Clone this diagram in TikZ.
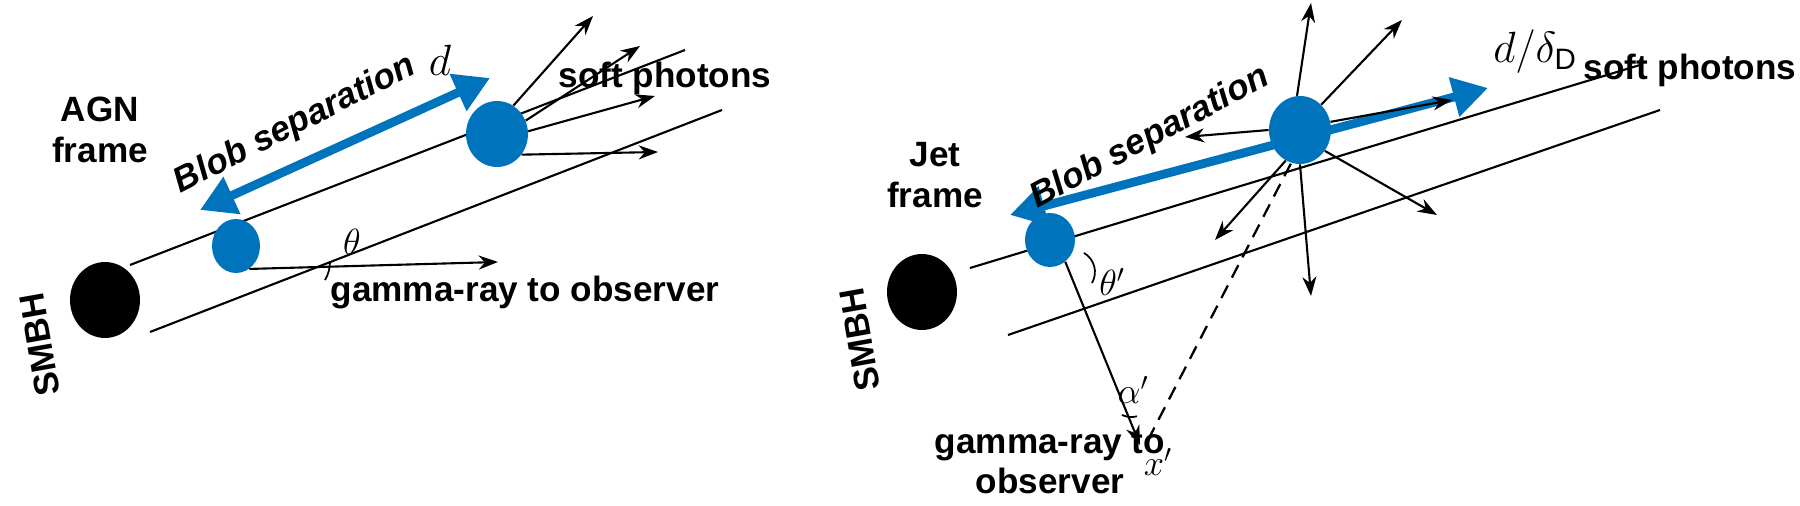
\documentclass[tikz,border=0pt]{standalone}
\usepackage{fontspec}
\setmainfont{Liberation Sans}
\usetikzlibrary{arrows.meta,shapes.geometric}
\definecolor{blobblue}{RGB}{0,115,189}
\begin{document}
\begin{tikzpicture}[x=0.02cm,y=-0.02cm,
  lbl/.style={font=\fontsize{20}{23}\selectfont\bfseries, align=center, inner sep=0pt},
  mth/.style={font=\fontsize{22}{24}\selectfont, inner sep=0pt},
  jet/.style={line width=1.2pt},
  ph/.style={line width=1.2pt,-{Stealth[length=11pt,width=8pt]}},
  blob/.style={ellipse, fill=blobblue, draw=none, inner sep=0pt},
  bh/.style={ellipse, fill=black, inner sep=0pt, minimum width=1.4cm, minimum height=1.52cm}]
\useasboundingbox (0,0) rectangle (1800,506);
% ---------- left panel ----------
\node[bh] (bhL) at (105,300) {};
\node[lbl, rotate=100] (smbhL) at (40,345) {SMBH};
\node[lbl] (agn) at (100,130) {AGN\\frame};
\coordinate (uL1) at (130,265); \coordinate (uL2) at (685,50);
\coordinate (lL1) at (150,332); \coordinate (lL2) at (722,110);
\draw[jet] (uL1) -- (uL2);
\draw[jet] (lL1) -- (lL2);
\node[blob, minimum width=0.96cm, minimum height=1.08cm] (b1L) at (236,246) {};
\node[blob, minimum width=1.24cm, minimum height=1.32cm] (b2L) at (497,134) {};
\coordinate (gL) at (498,262);
\draw[ph] (b1L.-60) -- (gL);
\draw[line width=1pt] (330,262) arc[start angle=0, end angle=31, radius=35];
\node[mth] (thL) at (352,242) {$\theta$};
\node[lbl] (gtxtL) at (525,292) {gamma-ray to observer};
\draw[blobblue, line width=5pt, {Triangle[length=20pt,width=22pt]}-{Triangle[length=20pt,width=22pt]}] (200,210) -- (490,78);
\node[lbl, rotate=27, font=\fontsize{20}{23}\selectfont\bfseries\itshape] (bsL) at (295,125) {Blob separation};
\node[mth, font=\fontsize{26}{28}\selectfont] (dL) at (440,60) {$d$};
\coordinate (pL1) at (593,16); \coordinate (pL2) at (640,46);
\coordinate (pL3) at (655,96); \coordinate (pL4) at (658,152);
\draw[ph] (b2L.60) -- (pL1);
\draw[ph] (b2L.25) -- (pL2);
\draw[ph] (b2L.5) -- (pL3);
\draw[ph] (b2L.-40) -- (pL4);
\node[lbl] (spL) at (665,78) {soft photons};
% ---------- right panel ----------
\node[bh] (bhR) at (922,292) {};
\node[lbl, rotate=100] (smbhR) at (860,340) {SMBH};
\node[lbl] (jetf) at (935,175) {Jet\\frame};
\coordinate (uR1) at (970,268); \coordinate (uR2) at (1640,65);
\coordinate (lR1) at (1008,335); \coordinate (lR2) at (1660,110);
\draw[jet] (uR1) -- (uR2);
\draw[jet] (lR1) -- (lR2);
\node[blob, minimum width=1.0cm, minimum height=1.08cm] (b1R) at (1050,240) {};
\node[blob, minimum width=1.24cm, minimum height=1.36cm] (b2R) at (1300,130) {};
\draw[blobblue, line width=5pt, {Triangle[length=20pt,width=22pt]}-{Triangle[length=20pt,width=22pt]}] (1010,215) -- (1488,88);
\node[lbl, rotate=28, font=\fontsize{20}{23}\selectfont\bfseries\itshape] (bsR) at (1150,138) {Blob separation};
\node[mth, font=\fontsize{24}{26}\selectfont] (dR) at (1535,52) {$d/\delta_{\mathrm{D}}$};
\node[lbl] (spR) at (1690,70) {soft photons};
\coordinate (qU) at (1311,3);   \coordinate (qUR) at (1402,20);
\coordinate (qR) at (1452,100); \coordinate (qL) at (1185,137);
\coordinate (qDL) at (1215,240); \coordinate (qDR) at (1437,215);
\coordinate (qD) at (1311,296);
\draw[ph] (b2R.95) -- (qU);
\draw[ph] (b2R.50) -- (qUR);
\draw[ph] (b2R.15) -- (qR);
\draw[ph] (b2R.180) -- (qL);
\draw[ph] (b2R.-115) -- (qDL);
\draw[ph] (b2R.-40) -- (qDR);
\draw[ph] (b2R.-90) -- (qD);
\coordinate (gR) at (1140,445);
\draw[ph] (b1R.-55) -- (gR);
\draw[line width=1.3pt, dash pattern=on 8pt off 5pt] (1148,440) -- (b2R.-105);
\draw[line width=1pt] (1092,283) arc[start angle=30, end angle=-60, radius=22];
\node[mth] (thR) at (1112,282) {$\theta'$};
\draw[line width=1pt] (1122,415) arc[start angle=115, end angle=75, radius=22];
\node[mth] (alR) at (1133,390) {$\alpha'$};
\node[mth] (xR) at (1158,462) {$x'$};
\node[lbl] (gtxtR) at (1050,462) {gamma-ray to\\observer};
\end{tikzpicture}
\end{document}
